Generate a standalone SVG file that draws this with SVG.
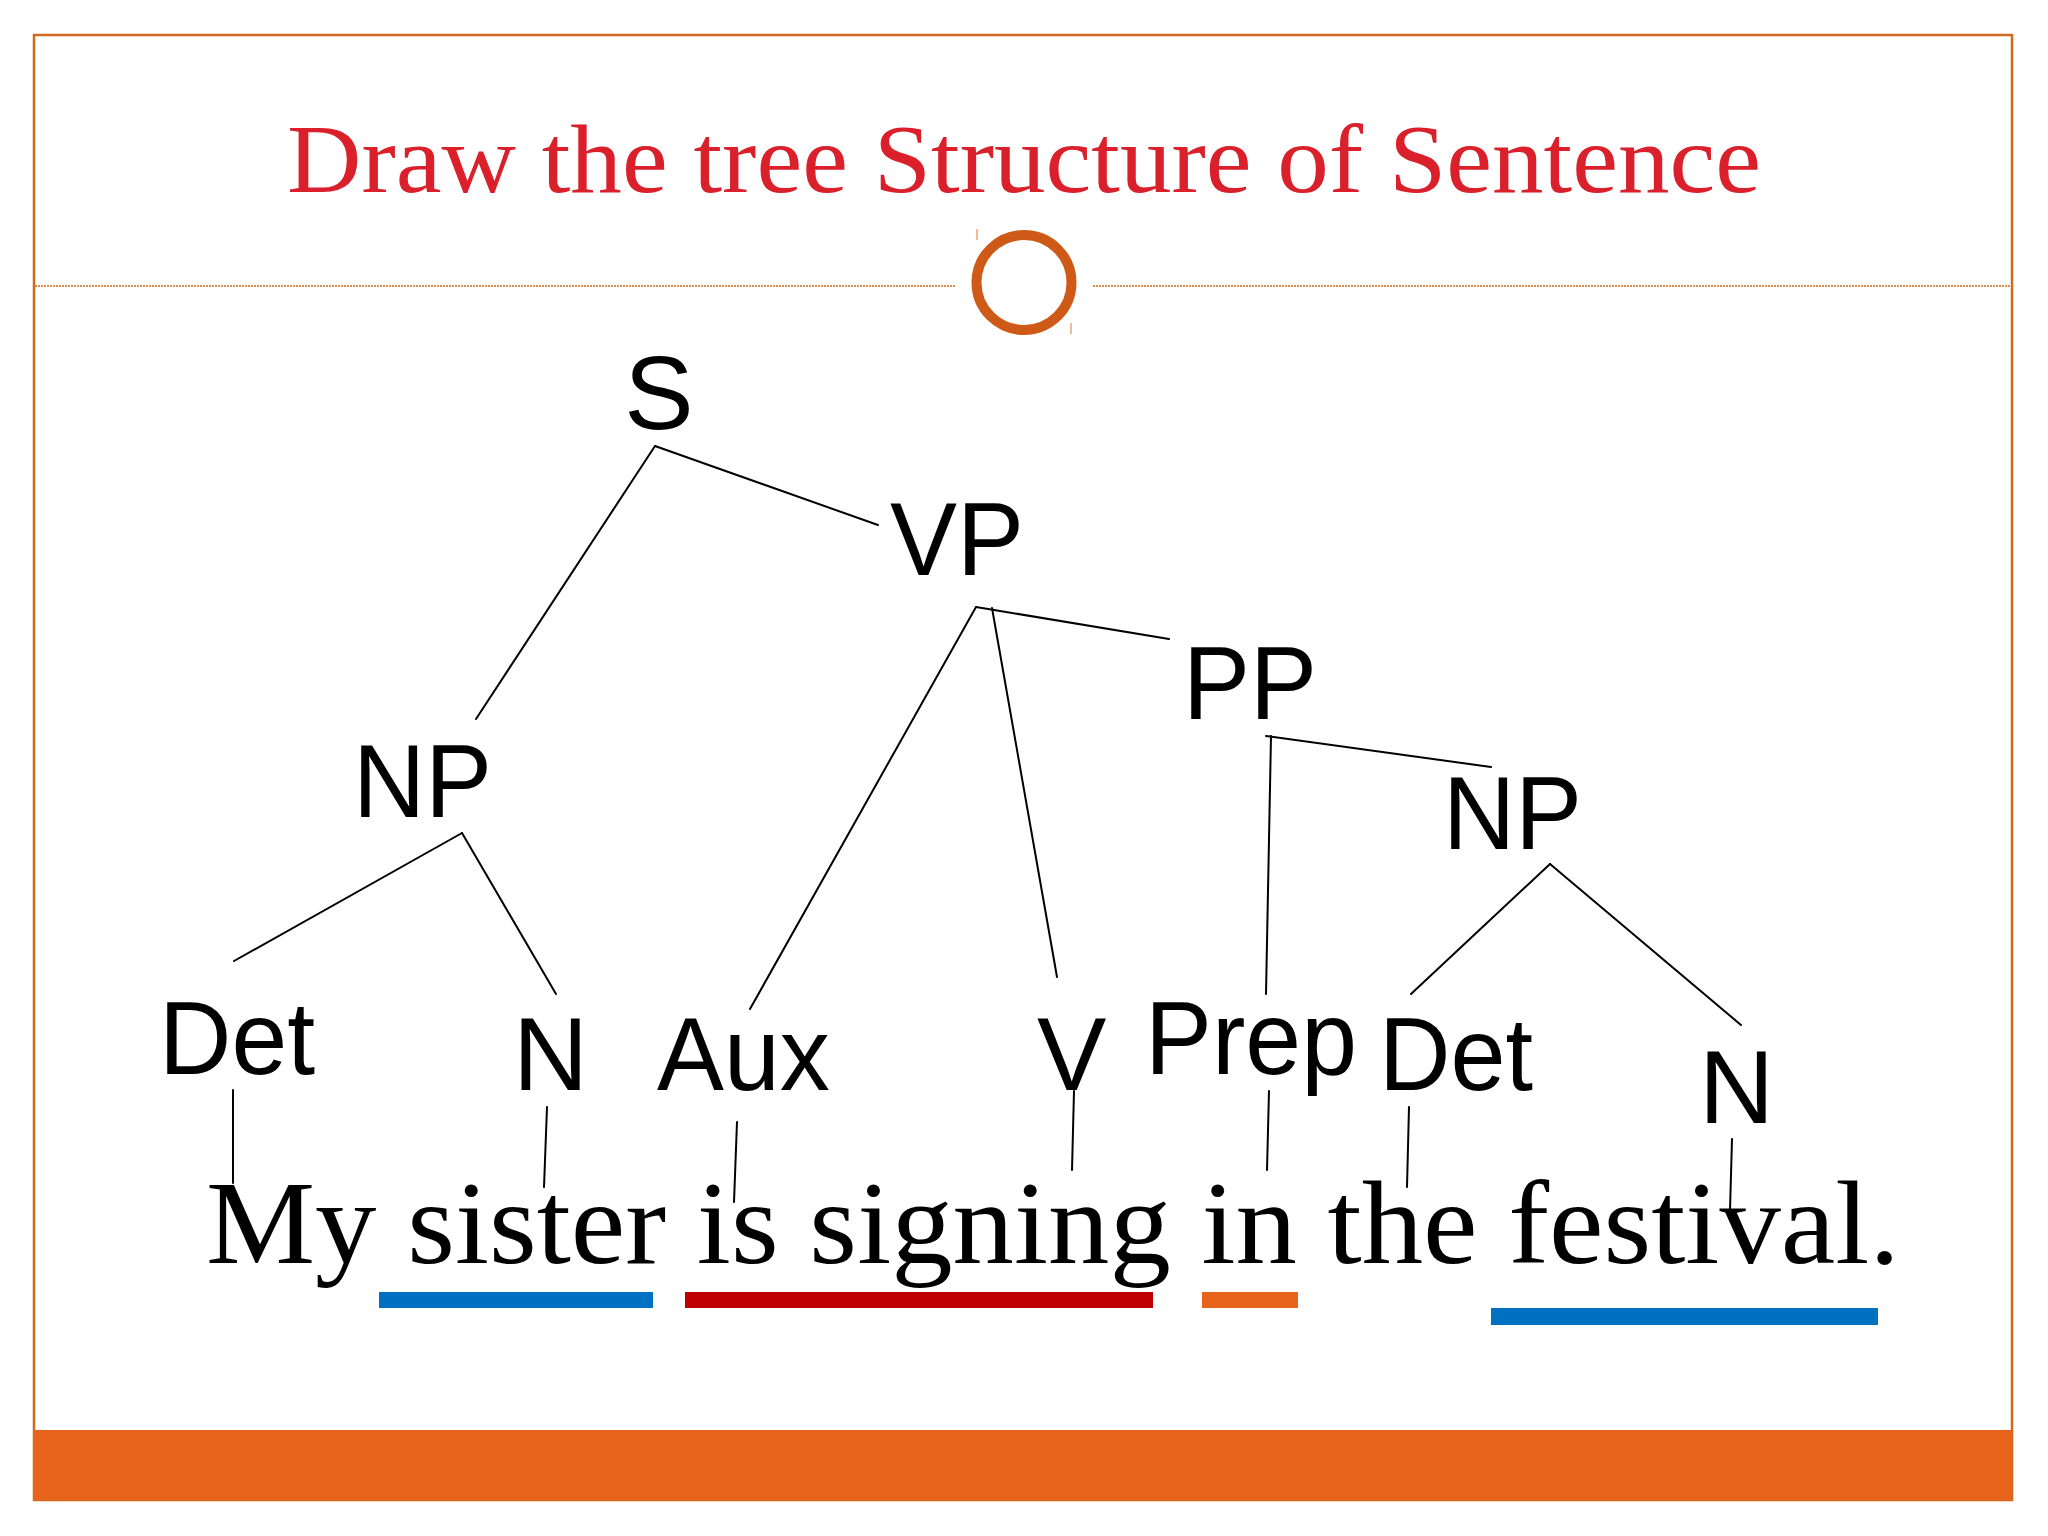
<svg xmlns="http://www.w3.org/2000/svg" width="2048" height="1536" viewBox="0 0 2048 1536">
  <defs>
    <style>
      .lbl { font-family: "Liberation Sans", Arial, sans-serif; font-size: 104px; fill: #000; }
      .edge { stroke: #000; stroke-width: 2; fill: none; stroke-linecap: round; }
      .title { font-family: "Liberation Serif", "Times New Roman", serif; font-size: 97px; fill: #D9202B; }
      .sent { font-family: "Liberation Serif", "Times New Roman", serif; font-size: 118px; fill: #000; }
      .tick { stroke: #E8A57A; stroke-width: 1.5; }
    </style>
  </defs>
  <rect width="2048" height="1536" fill="#ffffff"/>
  <!-- slide frame -->
  <rect x="34" y="35" width="1978" height="1465" fill="none" stroke="#D2691E" stroke-width="2.5"/>
  <rect x="34" y="1430" width="1978" height="70" fill="#E8631C"/>
  <!-- title -->
  <text class="title" x="287" y="192" textLength="1474" lengthAdjust="spacingAndGlyphs">Draw the tree Structure of Sentence</text>
  <!-- divider -->
  <line x1="35" y1="286" x2="955" y2="286" stroke="#D2691E" stroke-width="1.5" stroke-dasharray="2 1"/>
  <line x1="1093" y1="286" x2="2011" y2="286" stroke="#D2691E" stroke-width="1.5" stroke-dasharray="2 1"/>
  <circle cx="1024" cy="282.5" r="47.5" fill="none" stroke="#CF5A17" stroke-width="10"/>
  <line class="tick" x1="977" y1="229" x2="977" y2="240"/>
  <line class="tick" x1="1071" y1="323" x2="1071" y2="334"/>

  <!-- connectors -->
  <g id="connectors">
    <line class="edge" x1="655" y1="446" x2="476" y2="719"/>
    <line class="edge" x1="655" y1="446" x2="878" y2="525"/>
    <line class="edge" x1="462" y1="833" x2="234" y2="961"/>
    <line class="edge" x1="462" y1="833" x2="556" y2="994"/>
    <line class="edge" x1="976" y1="607" x2="1169" y2="639"/>
    <line class="edge" x1="976" y1="607" x2="750" y2="1009"/>
    <line class="edge" x1="992" y1="608" x2="1057" y2="977"/>
    <line class="edge" x1="1266" y1="736" x2="1491" y2="767"/>
    <line class="edge" x1="1271" y1="736" x2="1266" y2="994"/>
    <line class="edge" x1="1550" y1="864" x2="1411" y2="994"/>
    <line class="edge" x1="1550" y1="864" x2="1741" y2="1025"/>
    <line class="edge" x1="233" y1="1090" x2="233" y2="1183"/>
    <line class="edge" x1="547" y1="1107" x2="544" y2="1187"/>
    <line class="edge" x1="737" y1="1122" x2="734" y2="1202"/>
    <line class="edge" x1="1074" y1="1091" x2="1072" y2="1170"/>
    <line class="edge" x1="1269" y1="1091" x2="1267" y2="1170"/>
    <line class="edge" x1="1409" y1="1107" x2="1407" y2="1187"/>
    <line class="edge" x1="1732" y1="1139" x2="1730" y2="1210"/>
  </g>

  <!-- nodes -->
  <g id="node-S"><text class="lbl" x="659" y="429" text-anchor="middle">S</text></g>
  <g id="node-VP"><text class="lbl" x="890" y="575" textLength="134" lengthAdjust="spacingAndGlyphs">VP</text></g>
  <g id="node-NP1"><text class="lbl" x="353" y="817" textLength="139" lengthAdjust="spacingAndGlyphs">NP</text></g>
  <g id="node-Det1"><text class="lbl" x="159" y="1074" textLength="156" lengthAdjust="spacingAndGlyphs">Det</text></g>
  <g id="node-N1"><text class="lbl" x="513" y="1090">N</text></g>
  <g id="node-Aux"><text class="lbl" x="657" y="1090" textLength="173" lengthAdjust="spacingAndGlyphs">Aux</text></g>
  <g id="node-PP"><text class="lbl" x="1183" y="719" textLength="134" lengthAdjust="spacingAndGlyphs">PP</text></g>
  <g id="node-V"><text class="lbl" x="1037" y="1090">V</text></g>
  <g id="node-Prep"><text class="lbl" x="1145" y="1074" textLength="212" lengthAdjust="spacingAndGlyphs">Prep</text></g>
  <g id="node-NP2"><text class="lbl" x="1443" y="849" textLength="139" lengthAdjust="spacingAndGlyphs">NP</text></g>
  <g id="node-Det2"><text class="lbl" x="1379" y="1090" textLength="154" lengthAdjust="spacingAndGlyphs">Det</text></g>
  <g id="node-N2"><text class="lbl" x="1699" y="1123">N</text></g>

  <!-- sentence -->
  <text class="sent" x="206" y="1263" textLength="1694" lengthAdjust="spacingAndGlyphs">My sister is signing in the festival.</text>

  <!-- underline bars -->
  <rect x="379" y="1292" width="274" height="16" fill="#0070C0"/>
  <rect x="685" y="1292" width="468" height="16" fill="#C00000"/>
  <rect x="1202" y="1292" width="96" height="16" fill="#E8631C"/>
  <rect x="1491" y="1308" width="387" height="17" fill="#0070C0"/>
</svg>
